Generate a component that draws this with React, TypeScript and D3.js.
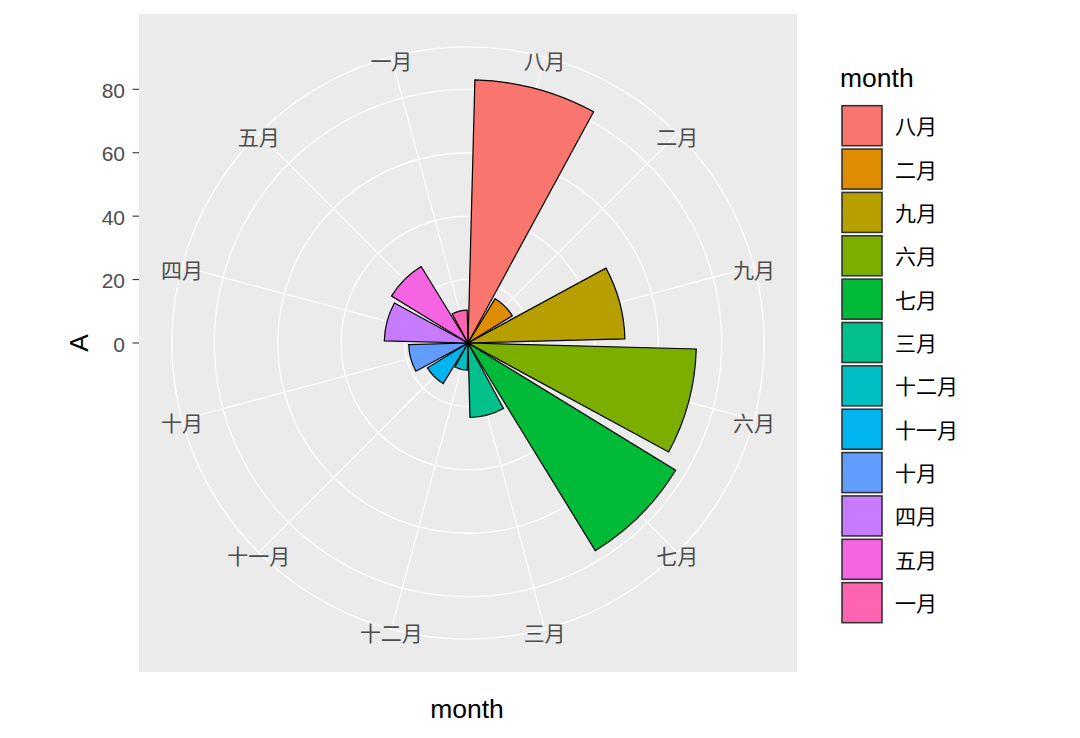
import React from 'react';
import * as d3 from 'd3';

// Bar heights per month, in the order the factor levels are drawn
const months = ['八月', '二月', '九月', '六月', '七月', '三月', '十二月', '十一月', '十月', '四月', '五月', '一月'];
const values = [83, 16.4, 49.5, 72, 76.8, 23.5, 8.6, 15, 18.7, 26.4, 28.3, 10.4];
const monthColors = ['#F8766D', '#DE8C00', '#B79F00', '#7CAE00', '#00BA38', '#00C08B', '#00BFC4', '#00B4F0', '#619CFF', '#C77CFF', '#F564E3', '#FF64B0'];
const rTicks = [0, 20, 40, 60, 80];

const FONT = '"Liberation Sans", Arial, "Noto Sans CJK SC", sans-serif';

const panel = { left: 139, top: 14, size: 658 };

const PolarBars: React.FC = () => {
  const cx = panel.left + panel.size / 2;
  const cy = panel.top + panel.size / 2;
  const outerR = 0.45 * panel.size;

  const r = d3.scaleLinear()
    .domain([0, d3.max(values) as number])
    .range([0, 0.4 * panel.size]);

  const theta = d3.scaleBand<string>()
    .domain(months)
    .range([0, 2 * Math.PI]);
  const bw = theta.bandwidth();
  const mid = (m: string) => (theta(m) as number) + bw / 2;

  const arc = d3.arc<{ start: number; end: number; outer: number }>()
    .innerRadius(0)
    .outerRadius(d => d.outer)
    .startAngle(d => d.start)
    .endAngle(d => d.end);

  const keyTop = 105.7;
  const keyStep = 43.36;
  const keySize = 40;

  return (
    <svg width={1080} height={738} style={{ display: 'block', background: '#fff' }} fontFamily={FONT}>
      {/* panel background */}
      <rect x={panel.left} y={panel.top} width={panel.size} height={panel.size} fill="#EBEBEB" />

      <g transform={`translate(${cx},${cy})`}>
        {/* radial grid circles */}
        {[...rTicks.filter(t => t > 0).map(t => r(t)), outerR].map((rad, i) => (
          <circle key={i} r={rad} fill="none" stroke="#fff" strokeWidth={1.3} />
        ))}
        {/* spokes */}
        {months.map(m => (
          <line key={m} x1={0} y1={0}
            x2={outerR * Math.sin(mid(m))} y2={-outerR * Math.cos(mid(m))}
            stroke="#fff" strokeWidth={1.1} />
        ))}
        {/* bars */}
        {months.map((m, i) => (
          <path key={m}
            d={arc({ start: mid(m) - 0.45 * bw, end: mid(m) + 0.45 * bw, outer: r(values[i]) }) as string}
            fill={monthColors[i]} stroke="#000" strokeWidth={1.2} />
        ))}
        {/* month labels around the circle */}
        {months.map(m => (
          <text key={m}
            x={outerR * Math.sin(mid(m))} y={-outerR * Math.cos(mid(m)) + 4}
            textAnchor="middle" dominantBaseline="central"
            fontSize={21} fill="#4D4D4D">{m}</text>
        ))}
      </g>

      {/* radius axis on the left */}
      {rTicks.map(t => (
        <g key={t} transform={`translate(0,${cy - r(t)})`}>
          <line x1={132.5} x2={139} y1={0} y2={0} stroke="#333" strokeWidth={1.1} />
          <text x={125} y={1} textAnchor="end" dominantBaseline="central" fontSize={21} fill="#4D4D4D">{t}</text>
        </g>
      ))}
      <text transform={`translate(88,${cy}) rotate(-90)`} textAnchor="middle" fontSize={26.5} fill="#000">A</text>
      <text x={cx - 1} y={718} textAnchor="middle" fontSize={26.5} fill="#000">month</text>

      {/* legend */}
      <text x={840} y={87} fontSize={26.5} fill="#000">month</text>
      {months.map((m, i) => {
        const y = keyTop + i * keyStep;
        return (
          <g key={m}>
            <rect x={842} y={y} width={keySize} height={keySize} fill={monthColors[i]} stroke="#333" strokeWidth={1.6} />
            <text x={895} y={y + keySize / 2 + 1} dominantBaseline="central" fontSize={21} fill="#000">{m}</text>
          </g>
        );
      })}
    </svg>
  );
};

export default function App() {
  return (
    <div style={{ position: 'absolute', left: 0, top: 0 }}>
      <PolarBars />
    </div>
  );
}
